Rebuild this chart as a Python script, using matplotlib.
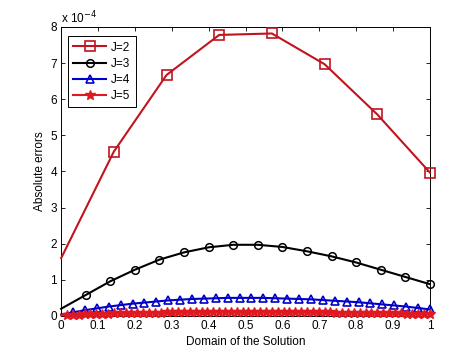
import numpy as np
import matplotlib
matplotlib.use("Agg")
import matplotlib.pyplot as plt

plt.rcParams['font.family'] = ['Liberation Sans', 'DejaVu Sans']

# Data (values in units of 1e-4)
j2_vals = [1.60, 4.55, 6.67, 7.78, 7.82, 6.97, 5.58, 3.97]
j3_vals = [0.20, 0.58, 0.96, 1.28, 1.56, 1.76, 1.90, 1.97, 1.97, 1.91, 1.79, 1.65,
           1.48, 1.28, 1.08, 0.88]
j4_vals = [0.04, 0.10, 0.16, 0.21, 0.26, 0.30, 0.34, 0.37, 0.40, 0.43, 0.45, 0.47,
           0.48, 0.49, 0.50, 0.50, 0.50, 0.50, 0.49, 0.48, 0.47, 0.46, 0.44, 0.42,
           0.40, 0.38, 0.35, 0.32, 0.29, 0.26, 0.22, 0.18]
j5_vals = [0.02, 0.03, 0.035, 0.04, 0.045, 0.05, 0.055, 0.06, 0.065, 0.07, 0.073,
           0.077, 0.08, 0.083, 0.086, 0.089, 0.092, 0.095, 0.097, 0.099, 0.101,
           0.103, 0.105, 0.107, 0.108, 0.109, 0.110, 0.111, 0.112, 0.112, 0.113,
           0.113, 0.113, 0.113, 0.112, 0.112, 0.111, 0.110, 0.109, 0.108, 0.107,
           0.106, 0.104, 0.102, 0.100, 0.098, 0.096, 0.094, 0.092, 0.090, 0.088,
           0.086, 0.083, 0.081, 0.078, 0.076, 0.073, 0.071, 0.068, 0.066, 0.063,
           0.061, 0.058, 0.055]
labels = ['J=2', 'J=3', 'J=4', 'J=5']
x_ticks = [0, 0.1, 0.2, 0.3, 0.4, 0.5, 0.6, 0.7, 0.8, 0.9, 1]
x_ticklabels = ['0', '0.1', '0.2', '0.3', '0.4', '0.5', '0.6', '0.7', '0.8', '0.9', '1']
y_ticks = [0, 1, 2, 3, 4, 5, 6, 7, 8]

def grid(vals):
    return np.linspace(0, 1, len(vals))

fig = plt.figure(figsize=(4.74, 3.55), dpi=100)
ax = fig.add_axes([0.129, 0.110, 0.778, 0.814])

ax.plot(grid(j2_vals), j2_vals, color='#c0141e', lw=1.5, marker='s', ms=6.5,
        mfc='none', mew=1.2, markevery=list(range(1, len(j2_vals))), label=labels[0],
        clip_on=False, zorder=3)
ax.plot(grid(j3_vals), j3_vals, color='black', lw=1.5, marker='o', ms=5.5,
        mfc='none', mew=1.1, markevery=list(range(1, len(j3_vals))), label=labels[1],
        clip_on=False, zorder=3)
ax.plot(grid(j4_vals), j4_vals, color='#0000c8', lw=1.5, marker='^', ms=6,
        mfc='none', mew=1.2, markevery=list(range(1, len(j4_vals))), label=labels[2],
        clip_on=False, zorder=3)
ax.plot(grid(j5_vals), j5_vals, color='#e01820', lw=1.5, marker='*', ms=7,
        mew=1.0, markevery=list(range(1, len(j5_vals))), label=labels[3],
        clip_on=False, zorder=3)

ax.set_xlim(0, 1)
ax.set_ylim(0, 8)
ax.set_xticks(x_ticks)
ax.set_xticklabels(x_ticklabels)
ax.set_yticks(y_ticks)
ax.tick_params(direction='in', top=True, right=True, labelsize=8.5, length=3,
               width=0.6, pad=3)
for s in ax.spines.values():
    s.set_linewidth(0.7)

ax.set_xlabel('Domain of the Solution', fontsize=8.5, labelpad=3)
ax.set_ylabel('Absolute errors', fontsize=8.5, labelpad=3)
ax.text(0.0, 1.004, r'x 10$^{-4}$', transform=ax.transAxes, fontsize=8.5,
        ha='left', va='bottom')

leg = ax.legend(loc='upper left', bbox_to_anchor=(0.018, 0.968), fontsize=8.5,
                fancybox=False, edgecolor='black', framealpha=1,
                handlelength=2.8, handletextpad=0.4, borderpad=0.45,
                labelspacing=0.35, borderaxespad=0)
leg.get_frame().set_linewidth(0.7)

fig.savefig('out.png', dpi=100)
